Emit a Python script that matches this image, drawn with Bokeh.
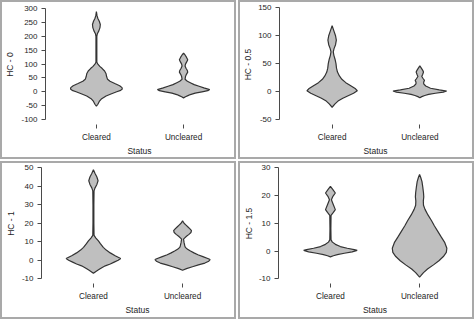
from bokeh.plotting import figure
from bokeh.layouts import row, column
from bokeh.models import FixedTicker, Range1d
from bokeh.embed import file_html
from bokeh.resources import INLINE

# ---------------- data ----------------
categories = ["Cleared", "Uncleared"]
panel_ylabels = ["HC - 0", "HC - 0.5", "HC - 1", "HC - 1.5"]
xlabel = "Status"

yticks_hc0 = [-100, -50, 0, 50, 100, 150, 200, 250, 300]
yticks_hc05 = [-50, 0, 50, 100, 150]
yticks_hc1 = [-10, 0, 10, 20, 30, 40, 50]
yticks_hc15 = [-10, 0, 10, 20, 30]

# violin outlines: value along y, half-width (x-axis units)
hc0_cleared_y = [-52, -45, -35, -25, -15, -8, 0, 5, 10, 15, 22, 30, 38, 45, 55, 65, 75, 84, 92, 100,
                 107, 150, 200, 210, 220, 232, 243, 255, 265, 275, 290]
hc0_cleared_w = [0, .017, .033, .061, .111, .167, .233, .278, .297, .294, .267, .211, .156, .128, .117,
                 .111, .094, .067, .039, .017, .005, .005, .005, .011, .028, .041, .045, .033, .017, .007, 0]
hc0_uncleared_y = [-22, -18, -14, -10, -5, 0, 4, 8, 14, 20, 26, 32, 38, 45, 55, 63, 71, 78, 85, 93,
                   100, 108, 116, 125, 133, 140]
hc0_uncleared_w = [0, .022, .05, .078, .133, .211, .278, .3, .233, .178, .122, .083, .044, .017, .022,
                   .033, .048, .042, .028, .017, .022, .036, .048, .033, .017, 0]

hc05_cleared_y = [-28, -22, -17, -12, -7, -3, 1.5, 5, 10, 16, 22, 28, 35, 42, 50, 58, 65, 71, 77, 84,
                  92, 100, 110, 118]
hc05_cleared_w = [0, .033, .067, .122, .189, .244, .287, .267, .217, .156, .111, .083, .061, .05, .044,
                  .033, .02, .013, .022, .039, .048, .039, .017, 0]
hc05_uncleared_y = [-11, -9, -7, -5, -3, -1, 1, 3, 6, 10, 14, 17, 20, 23, 27, 31, 35, 38, 42, 46]
hc05_uncleared_w = [0, .022, .056, .1, .178, .267, .306, .222, .122, .067, .044, .044, .053, .039, .022,
                    .033, .042, .033, .017, 0]

hc1_cleared_y = [-7, -6, -5, -4, -3, -2, -1, 0, 1, 2.5, 4, 5.5, 7, 9, 10.5, 12, 13.5, 20, 30, 37.5,
                 39, 41, 43, 45, 47, 49]
hc1_cleared_w = [0, .028, .061, .094, .133, .189, .233, .278, .306, .244, .189, .144, .111, .078, .056,
                 .028, .007, .005, .005, .007, .017, .039, .052, .039, .017, 0]
hc1_uncleared_y = [-5.4, -4.5, -3.5, -2.5, -1.5, -0.5, 0.4, 1, 2, 3, 4, 5, 6, 7, 8, 9.5, 11.4, 12, 13,
                   14, 15, 16, 17, 18, 19, 20, 21.3]
hc1_uncleared_w = [0, .044, .111, .178, .25, .294, .309, .283, .228, .172, .128, .089, .056, .031, .024,
                   .017, .011, .022, .044, .072, .094, .1, .083, .061, .039, .017, 0]

hc15_cleared_y = [-2.1, -1.7, -1.3, -0.8, -0.3, 0.2, 0.5, 1, 1.6, 2.4, 3.2, 4, 8, 12.8, 13.9, 14.9,
                  16.7, 18.5, 19.7, 20.9, 22.1, 23.3]
hc15_cleared_w = [0, .033, .078, .156, .244, .3, .267, .189, .111, .056, .022, .007, .005, .007, .033,
                  .055, .033, .011, .028, .055, .028, 0]
hc15_uncleared_y = [-9.4, -8.8, -7.8, -6.5, -5, -3.5, -2, -0.5, 1, 3, 5, 7, 9, 11, 13, 15, 16.5, 18,
                    19.5, 21, 23, 25, 26.5, 27.6]
hc15_uncleared_w = [0, .017, .044, .089, .156, .217, .267, .3, .306, .283, .244, .206, .167, .133, .094,
                    .061, .044, .042, .047, .044, .036, .027, .013, 0]

# ---------------- style ----------------
FONT = "Liberation Sans"
FILL = "#bfbfbf"
EDGE = "#333333"
AXIS = "#4a4a4a"
TEXT = "#1e1e1e"
BORDER = {"border": "2px solid #a9a9a9"}


def make_panel(ylabel, yticks, xr, yr, w, h, ml, mr, mt, mb, ystand, violins):
    p = figure(width=w, height=h,
               min_border_left=ml, min_border_right=mr,
               min_border_top=mt, min_border_bottom=mb,
               x_range=Range1d(*xr), y_range=Range1d(*yr),
               output_backend="svg", toolbar_location=None, styles=BORDER)
    p.grid.visible = False
    p.outline_line_color = None
    p.background_fill_color = "white"
    p.border_fill_color = "white"

    for i, (ys, ws) in enumerate(violins):
        c = i + 1
        xs = [c + v for v in ws] + [c - v for v in reversed(ws)]
        yy = list(ys) + list(reversed(ys))
        p.patch(xs, yy, fill_color=FILL, line_color=EDGE, line_width=1.2)

    ya = p.yaxis[0]
    ya.ticker = FixedTicker(ticks=yticks)
    ya.major_label_overrides = {t: str(t) for t in yticks}
    ya.bounds = (min(yticks), max(yticks))
    ya.minor_tick_line_color = None
    ya.major_tick_in = 0
    ya.major_tick_out = 4
    ya.axis_line_color = AXIS
    ya.major_tick_line_color = AXIS
    ya.major_label_text_font = FONT
    ya.major_label_text_font_size = "8px"
    ya.major_label_text_color = TEXT
    ya.major_label_standoff = 4
    ya.axis_label = ylabel
    ya.axis_label_text_font = FONT
    ya.axis_label_text_font_size = "8.5px"
    ya.axis_label_text_font_style = "normal"
    ya.axis_label_text_color = TEXT
    ya.axis_label_standoff = ystand

    xa = p.xaxis[0]
    xa.ticker = FixedTicker(ticks=[1, 2])
    xa.major_label_overrides = {1: categories[0], 2: categories[1]}
    xa.minor_tick_line_color = None
    xa.axis_line_color = None
    xa.major_tick_in = 0
    xa.major_tick_out = 4
    xa.major_tick_line_color = AXIS
    xa.major_label_text_font = FONT
    xa.major_label_text_font_size = "8.2px"
    xa.major_label_text_color = TEXT
    xa.major_label_standoff = 4
    xa.axis_label = xlabel
    xa.axis_label_text_font = FONT
    xa.axis_label_text_font_size = "8.5px"
    xa.axis_label_text_font_style = "normal"
    xa.axis_label_text_color = TEXT
    xa.axis_label_standoff = 1
    return p


p1 = make_panel(panel_ylabels[0], yticks_hc0, (0.416, 2.573), (-118.2, 315.4),
                236, 159, 39, 5, 2, 37, 3,
                [(hc0_cleared_y, hc0_cleared_w), (hc0_uncleared_y, hc0_uncleared_w)])
p2 = make_panel(panel_ylabels[1], yticks_hc05, (0.4, 2.589), (-58.9, 155.95),
                236, 159, 34, 5, 2, 37, 2,
                [(hc05_cleared_y, hc05_cleared_w), (hc05_uncleared_y, hc05_uncleared_w)])
p3 = make_panel(panel_ylabels[2], yticks_hc1, (0.4176, 2.5714), (-12.54, 52.3),
                236, 158, 35, 5, 0, 38, 3,
                [(hc1_cleared_y, hc1_cleared_w), (hc1_uncleared_y, hc1_uncleared_w)])
p4 = make_panel(panel_ylabels[3], yticks_hc15, (0.4176, 2.5824), (-11.71, 31.53),
                236, 158, 34, 5, 0, 38, 2,
                [(hc15_cleared_y, hc15_cleared_w), (hc15_uncleared_y, hc15_uncleared_w)])

layout = column(row(p1, p2, spacing=2), row(p3, p4, spacing=2), spacing=2)

open("out.html", "w").write(file_html(layout, INLINE))
